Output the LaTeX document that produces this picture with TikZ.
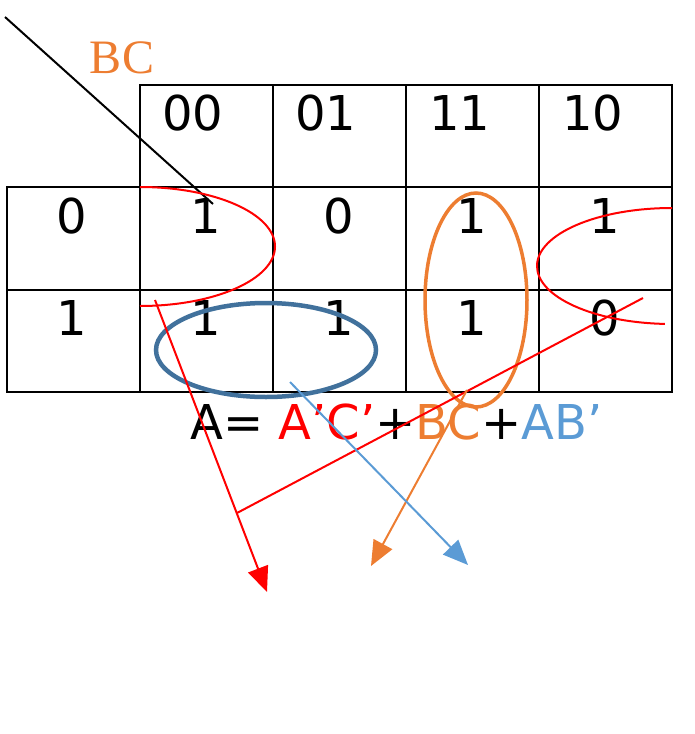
\documentclass[tikz,border=0pt]{standalone}
\usepackage{fontspec}
\setmainfont{DejaVu Sans}
\newfontfamily\bcfont{Liberation Serif}
\usetikzlibrary{arrows.meta}
\definecolor{accred}{RGB}{255,0,0}
\definecolor{accorange}{RGB}{237,125,49}
\definecolor{accblue}{RGB}{91,155,213}
\definecolor{loopblue}{RGB}{65,113,156}
\tikzset{%
  entry/.style    = {inner sep = 0pt, anchor = base,
    font = \fontsize{48}{48}\selectfont},
  gridline/.style = {draw, line width = 2.5pt},
  redloop/.style  = {draw = accred, line width = 2pt},
  pointer/.style  = {line width = 2pt, -{Triangle[length = 25pt, width = 21pt]}}
}

\begin{document}
\begin{tikzpicture}[x = 1pt, y = -1pt]
\useasboundingbox (0,0) rectangle (695,734);
% map grid
\draw[gridline] (140,85) rectangle (672,392);
\draw[gridline] (7,187) rectangle (140,392);
\draw[gridline] (140,187) -- (672,187);
\draw[gridline] (7,290) -- (672,290);
\draw[gridline] (273,85) -- (273,392);
\draw[gridline] (406,85) -- (406,392);
\draw[gridline] (539,85) -- (539,392);
% corner label
\draw[line width = 2pt] (5,17) -- (213,204);
\node [entry, text = accorange, font = \bcfont\fontsize{48}{48}\selectfont] (bc) at (122,73) {BC};
% column heads
\draw
	(193,130) node [entry] (h00) {00}
	(326,130) node [entry] (h01) {01}
	(460,130) node [entry] (h11) {11}
	(593,130) node [entry] (h10) {10};
% row A = 0
\draw
	(72,233) node [entry] (a0) {0}
	(206,233) node [entry] (m0) {1}
	(339,233) node [entry] (m1) {0}
	(472,233) node [entry] (m3) {1}
	(605,233) node [entry] (m2) {1};
% row A = 1
\draw
	(72,335) node [entry] (a1) {1}
	(206,335) node [entry] (m4) {1}
	(339,335) node [entry] (m5) {1}
	(472,335) node [entry] (m7) {1}
	(605,335) node [entry] (m6) {0};
% groups
\draw[redloop] (140,187) arc[start angle = -90, end angle = 90, x radius = 135, y radius = 59.5];
\draw[redloop] (672,208) arc[start angle = -90, end angle = -267, x radius = 135, y radius = 58];
\draw[accorange, line width = 3.5pt] (476,300) ellipse[x radius = 51, y radius = 107];
\draw[loopblue, line width = 4.5pt] (266,350) ellipse[x radius = 110, y radius = 47];
% result
\node [entry, anchor = base west] (eq) at (190,439)
	{A= \textcolor{accred}{A'C'}+\textcolor{accorange}{BC}+\textcolor{accblue}{AB'}};
% pointers
\coordinate (redA) at (155,300);
\coordinate (redB) at (643,298);
\coordinate (redjoin) at (237,513);
\coordinate (redtip) at (267,592);
\coordinate (orgA) at (467,390);
\coordinate (orgtip) at (371,566);
\coordinate (bluA) at (290,382);
\coordinate (blutip) at (468,565);
\draw[pointer, accred] (redA) -- (redtip);
\draw[accred, line width = 2pt] (redB) -- (redjoin);
\draw[pointer, accorange] (orgA) -- (orgtip);
\draw[pointer, accblue] (bluA) -- (blutip);
\end{tikzpicture}
\end{document}
